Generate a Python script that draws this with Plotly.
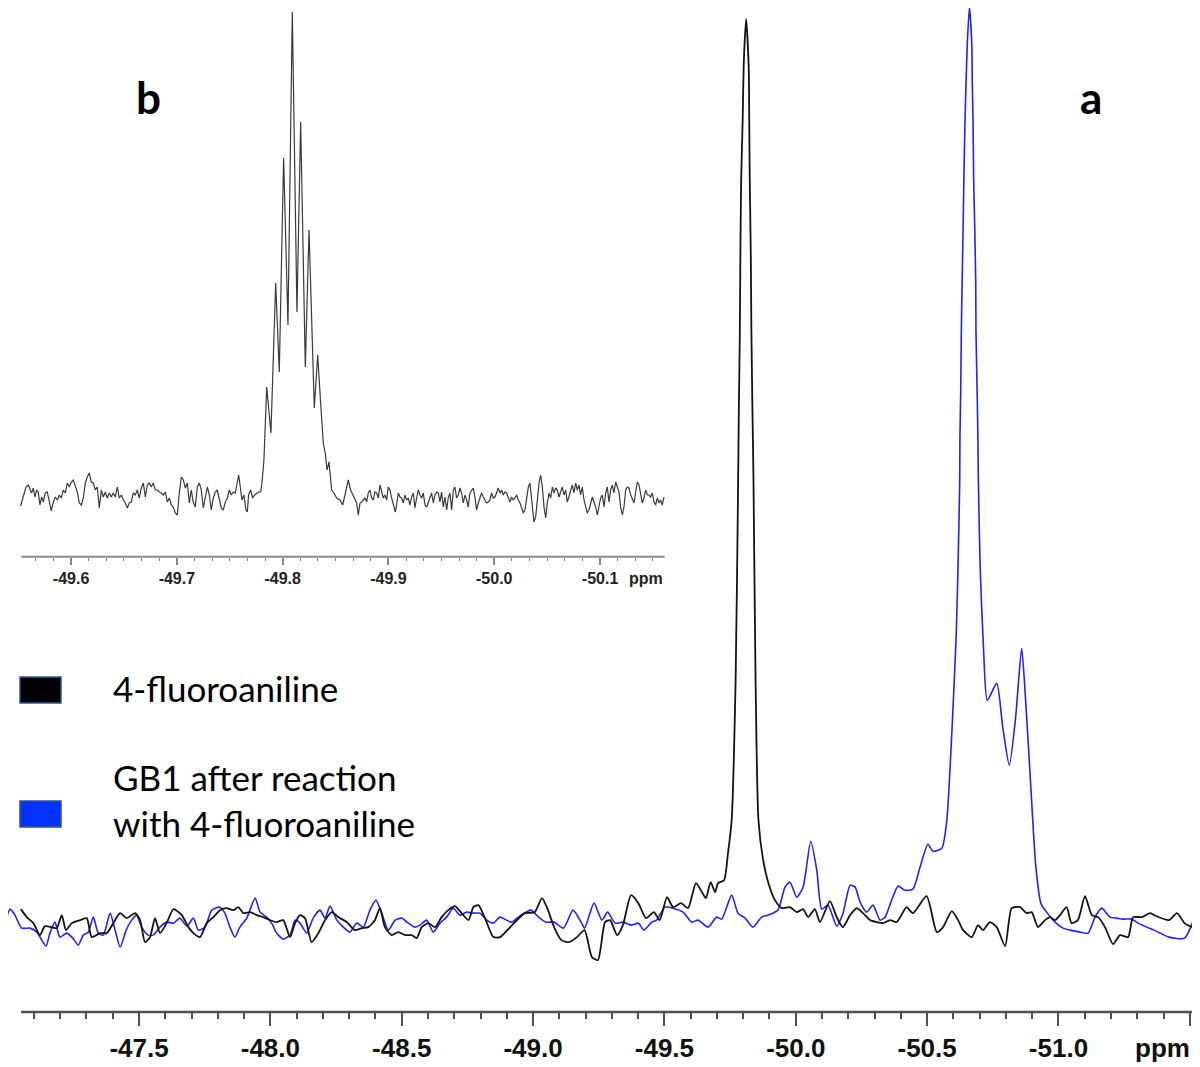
import numpy as np
import plotly.graph_objects as go

# the page puts the figure 8 px in from the top-left corner
OFF = 8
W, H = 1200 - OFF, 1067 - OFF

# ---- data: 19F spectra, (ppm, intensity in arbitrary units) ----
# main spectrum, 4-fluoroaniline (black)
black_trace = [
    (-47.050, 11), (-47.073, 3), (-47.098, -3), (-47.123, -15), (-47.142, -6), (-47.168, -7),
    (-47.187, -8), (-47.206, 5), (-47.222, -10), (-47.244, -3), (-47.275, 0), (-47.301, 2),
    (-47.320, -17), (-47.352, -13), (-47.377, -13), (-47.402, -3), (-47.428, 7), (-47.453, 2),
    (-47.485, 7), (-47.504, 0), (-47.523, -22), (-47.542, -17), (-47.561, 2), (-47.580, -13),
    (-47.605, -3), (-47.631, 11), (-47.663, 5), (-47.688, -7), (-47.707, -13), (-47.732, -17),
    (-47.758, -3), (-47.783, 3), (-47.808, 10), (-47.834, 12), (-47.859, 10), (-47.878, 13),
    (-47.897, 7), (-47.923, 8), (-47.948, 5), (-47.973, 3), (-47.999, 0), (-48.024, -2),
    (-48.049, 0), (-48.075, -17), (-48.094, -3), (-48.113, 5), (-48.132, 2), (-48.157, -22),
    (-48.183, -13), (-48.208, 0), (-48.234, 8), (-48.259, 3), (-48.291, -2), (-48.322, -10),
    (-48.348, -8), (-48.373, -7), (-48.398, 0), (-48.417, 12), (-48.436, -7), (-48.462, -15),
    (-48.487, -12), (-48.513, -15), (-48.538, -15), (-48.557, -18), (-48.576, -7), (-48.601, -3),
    (-48.627, -7), (-48.652, 3), (-48.677, 10), (-48.703, 14), (-48.728, 7), (-48.754, 0),
    (-48.773, 13), (-48.792, 15), (-48.817, 2), (-48.849, -17), (-48.874, -17), (-48.931, -2),
    (-48.969, 7), (-49.006, 8), (-49.034, 22), (-49.057, 10), (-49.080, -7), (-49.108, -20),
    (-49.137, -22), (-49.167, -17), (-49.196, -10), (-49.224, -37), (-49.247, -40), (-49.259, -25),
    (-49.274, -2), (-49.293, 0), (-49.320, -15), (-49.342, -5), (-49.373, 25), (-49.401, 17),
    (-49.430, 2), (-49.460, 8), (-49.482, 0), (-49.510, 23), (-49.533, 13), (-49.563, 17),
    (-49.590, 12), (-49.620, 37), (-49.643, 28), (-49.658, 22), (-49.676, 38), (-49.693, 28),
    (-49.704, 37), (-49.727, 40), (-49.742, 67), (-49.756, 100), (-49.771, 240), (-49.780, 423),
    (-49.783, 503), (-49.787, 585), (-49.789, 660), (-49.792, 738), (-49.798, 802), (-49.802, 857),
    (-49.811, 902), (-49.821, 853), (-49.823, 798), (-49.825, 738), (-49.829, 663), (-49.831, 592),
    (-49.835, 513), (-49.839, 443), (-49.847, 240), (-49.858, 100), (-49.876, 60), (-49.896, 37),
    (-49.921, 20), (-49.947, 12), (-49.978, 13), (-50.004, 8), (-50.028, 11), (-50.047, 3),
    (-50.073, 11), (-50.092, -2), (-50.130, 19), (-50.156, 3), (-50.179, -7), (-50.207, 5),
    (-50.232, 12), (-50.256, 7), (-50.283, 0), (-50.308, -2), (-50.332, -3), (-50.359, 0),
    (-50.384, -2), (-50.422, 13), (-50.446, 7), (-50.498, 24), (-50.537, -12), (-50.561, -7),
    (-50.594, 9), (-50.618, 0), (-50.637, -10), (-50.670, -17), (-50.694, -5), (-50.713, -10),
    (-50.739, -2), (-50.765, -7), (-50.797, -26), (-50.822, 12), (-50.854, 13), (-50.879, 7),
    (-50.898, 8), (-50.922, -7), (-50.949, 0), (-50.968, 3), (-50.987, 0), (-51.006, 5),
    (-51.031, 13), (-51.050, -3), (-51.074, 0), (-51.101, 24), (-51.127, 5), (-51.151, 3),
    (-51.177, -7), (-51.208, -24), (-51.234, -15), (-51.265, -17), (-51.284, 3), (-51.317, 3),
    (-51.349, 7), (-51.364, 5), (-51.421, 0), (-51.451, 7), (-51.480, -3), (-51.508, -7),
]

# main spectrum, GB1 after reaction with 4-fluoroaniline (blue)
blue_trace = [
    (-46.990, -3), (-47.009, 11), (-47.028, 5), (-47.053, -8), (-47.085, -8), (-47.111, -12),
    (-47.130, -20), (-47.146, -26), (-47.161, -13), (-47.180, -2), (-47.199, -17), (-47.225, -13),
    (-47.248, -18), (-47.269, -25), (-47.288, -15), (-47.307, -12), (-47.326, 3), (-47.345, -13),
    (-47.364, -15), (-47.390, 7), (-47.409, -10), (-47.428, -27), (-47.451, -10), (-47.472, 0),
    (-47.491, 5), (-47.510, -7), (-47.535, -15), (-47.554, -15), (-47.580, -7), (-47.605, -2),
    (-47.631, -3), (-47.656, 2), (-47.682, -6), (-47.707, 2), (-47.726, -10), (-47.751, -7),
    (-47.777, 10), (-47.808, 13), (-47.827, 7), (-47.846, -7), (-47.865, -17), (-47.884, -7),
    (-47.910, 2), (-47.942, 22), (-47.961, 8), (-47.986, 3), (-48.005, -3), (-48.024, -13),
    (-48.049, -19), (-48.075, -15), (-48.094, 0), (-48.113, -3), (-48.138, -13), (-48.163, 2),
    (-48.189, 10), (-48.208, 2), (-48.227, 14), (-48.253, 0), (-48.278, -7), (-48.303, -12),
    (-48.329, -3), (-48.354, -7), (-48.379, 10), (-48.402, 20), (-48.424, 7), (-48.449, -10),
    (-48.475, 0), (-48.500, 2), (-48.525, -3), (-48.551, -7), (-48.570, -5), (-48.595, 0),
    (-48.620, -12), (-48.646, -3), (-48.671, 3), (-48.696, 12), (-48.722, 5), (-48.747, 8),
    (-48.773, 7), (-48.798, 7), (-48.824, 0), (-48.849, -3), (-48.874, 3), (-48.918, -2),
    (-48.954, 5), (-48.992, 10), (-49.021, 3), (-49.049, -2), (-49.080, -2), (-49.116, -8),
    (-49.152, 10), (-49.183, -2), (-49.196, -8), (-49.232, 17), (-49.262, 0), (-49.284, 8),
    (-49.312, -3), (-49.342, -2), (-49.373, -5), (-49.401, -3), (-49.422, -10), (-49.452, -2),
    (-49.470, 0), (-49.502, 13), (-49.533, 12), (-49.571, 8), (-49.604, -2), (-49.628, 0),
    (-49.666, -7), (-49.699, 3), (-49.718, 1), (-49.756, 25), (-49.780, 7), (-49.807, 2),
    (-49.837, -7), (-49.870, 3), (-49.894, 5), (-49.932, 10), (-49.959, 33), (-49.978, 38),
    (-50.004, 23), (-50.028, 33), (-50.057, 79), (-50.080, 50), (-50.099, 11), (-50.123, 15),
    (-50.156, -6), (-50.180, 7), (-50.207, 35), (-50.226, 33), (-50.245, 18), (-50.270, 8),
    (-50.294, 15), (-50.321, 0), (-50.340, 3), (-50.365, 20), (-50.389, 34), (-50.416, 30),
    (-50.446, 31), (-50.473, 53), (-50.503, 76), (-50.522, 69), (-50.556, 72), (-50.575, 100),
    (-50.594, 187), (-50.611, 287), (-50.619, 370), (-50.624, 437), (-50.625, 483), (-50.628, 530),
    (-50.630, 583), (-50.633, 635), (-50.637, 693), (-50.640, 743), (-50.644, 797), (-50.648, 837),
    (-50.653, 877), (-50.661, 914), (-50.670, 877), (-50.672, 837), (-50.675, 797), (-50.677, 743),
    (-50.681, 697), (-50.685, 640), (-50.686, 590), (-50.690, 535), (-50.693, 490), (-50.695, 443),
    (-50.702, 353), (-50.715, 270), (-50.729, 220), (-50.765, 237), (-50.788, 193), (-50.813, 155),
    (-50.837, 203), (-50.860, 272), (-50.875, 220), (-50.894, 137), (-50.914, 53), (-50.933, 17),
    (-50.952, 9), (-50.987, -2), (-51.017, -8), (-51.044, -10), (-51.082, -12), (-51.113, -13),
    (-51.139, 3), (-51.165, 12), (-51.196, 3), (-51.222, 2), (-51.246, 1), (-51.279, 1),
    (-51.303, -3), (-51.336, -7), (-51.364, -10), (-51.421, -17), (-51.480, -18), (-51.517, 2),
]

# inset b: high resolution 4-fluoroaniline multiplet
inset_trace = [
    (-49.5523, -8), (-49.5549, 3), (-49.5574, 11), (-49.5596, 13), (-49.5612, 8), (-49.5627, 5),
    (-49.5643, 10), (-49.5659, 1), (-49.5675, 8), (-49.5690, 6), (-49.5706, -7), (-49.5722, 1),
    (-49.5738, -4), (-49.5756, 5), (-49.5775, 6), (-49.5794, -4), (-49.5813, -13), (-49.5832, -4),
    (-49.5851, 1), (-49.5870, -2), (-49.5889, 3), (-49.5908, 0), (-49.5927, 8), (-49.5946, 5),
    (-49.5964, 15), (-49.5983, 11), (-49.6002, 16), (-49.6021, 18), (-49.6040, 13), (-49.6059, 6),
    (-49.6078, -5), (-49.6097, -7), (-49.6116, 0), (-49.6135, 15), (-49.6153, 21), (-49.6172, 25),
    (-49.6191, 16), (-49.6210, 15), (-49.6229, 8), (-49.6248, 11), (-49.6267, -10), (-49.6286, 8),
    (-49.6305, 1), (-49.6324, 6), (-49.6342, 0), (-49.6361, 5), (-49.6380, 1), (-49.6399, 5),
    (-49.6418, 1), (-49.6437, 11), (-49.6456, 0), (-49.6475, 3), (-49.6494, -2), (-49.6513, -5),
    (-49.6532, -10), (-49.6550, -5), (-49.6569, -4), (-49.6588, 5), (-49.6607, 3), (-49.6626, 8),
    (-49.6645, 0), (-49.6664, 10), (-49.6683, 15), (-49.6702, 1), (-49.6721, 13), (-49.6739, 15),
    (-49.6758, 11), (-49.6777, 15), (-49.6796, 8), (-49.6815, 8), (-49.6834, 6), (-49.6853, 5),
    (-49.6872, 3), (-49.6891, 6), (-49.6910, -4), (-49.6928, 0), (-49.6947, -7), (-49.6966, -9),
    (-49.6985, -15), (-49.7004, -17), (-49.7023, 5), (-49.7042, 21), (-49.7061, 18), (-49.7080, 10),
    (-49.7099, 15), (-49.7118, -5), (-49.7136, 8), (-49.7155, -4), (-49.7174, -9), (-49.7193, 11),
    (-49.7212, 15), (-49.7231, 8), (-49.7250, -10), (-49.7269, 0), (-49.7288, 11), (-49.7307, 3),
    (-49.7325, -12), (-49.7344, 0), (-49.7363, 6), (-49.7382, 8), (-49.7401, -2), (-49.7420, -10),
    (-49.7439, -12), (-49.7458, -4), (-49.7477, 0), (-49.7496, 8), (-49.7514, 3), (-49.7533, 6),
    (-49.7552, 5), (-49.7571, 18), (-49.7584, 23), (-49.7597, 13), (-49.7615, -2), (-49.7634, 3),
    (-49.7653, -12), (-49.7666, -14), (-49.7678, 3), (-49.7697, 8), (-49.7716, 0), (-49.7735, 3),
    (-49.7754, 5), (-49.7773, 6), (-49.7792, 6), (-49.7804, 15),
    (-49.7823, 38), (-49.7849, 111), (-49.7889, 65), (-49.7934, 215), (-49.7968, 126),
    (-49.8009, 340), (-49.8050, 173), (-49.8091, 486), (-49.8135, 186), (-49.8170, 376),
    (-49.8214, 131), (-49.8249, 268), (-49.8299, 90), (-49.8331, 143), (-49.8357, 98),
    (-49.8384, 55), (-49.8405, 43), (-49.8419, 28), (-49.8438, 36), (-49.8463, 8),
    (-49.8485, 5), (-49.8510, 0), (-49.8542, -2), (-49.8567, -7), (-49.8589, 3), (-49.8605, 11),
    (-49.8620, 18), (-49.8642, 8), (-49.8661, 3), (-49.8683, -2), (-49.8699, -5), (-49.8715, -17),
    (-49.8731, -5), (-49.8746, -4), (-49.8762, -2), (-49.8778, 0), (-49.8794, -4), (-49.8809, 5),
    (-49.8825, 8), (-49.8841, 0), (-49.8857, -2), (-49.8872, 6), (-49.8888, 5), (-49.8904, 0),
    (-49.8920, 13), (-49.8935, 6), (-49.8951, 0), (-49.8967, 3), (-49.8983, -2), (-49.8998, 11),
    (-49.9014, 8), (-49.9030, 0), (-49.9046, -7), (-49.9065, -14), (-49.9077, -7), (-49.9093, 5),
    (-49.9109, 1), (-49.9124, 0), (-49.9140, -5), (-49.9156, 3), (-49.9172, -2), (-49.9187, 0),
    (-49.9203, -7), (-49.9219, 1), (-49.9235, 5), (-49.9250, -10), (-49.9266, 0), (-49.9282, 8),
    (-49.9298, 3), (-49.9313, 0), (-49.9329, 5), (-49.9345, -7), (-49.9361, -9), (-49.9376, -4),
    (-49.9392, 0), (-49.9408, 5), (-49.9424, -5), (-49.9439, 3), (-49.9455, 6), (-49.9471, 5),
    (-49.9487, -4), (-49.9502, 6), (-49.9518, -9), (-49.9534, 1), (-49.9550, -12), (-49.9565, 0),
    (-49.9581, 5), (-49.9597, -12), (-49.9613, 8), (-49.9628, 11), (-49.9644, 0), (-49.9660, 3),
    (-49.9676, 10), (-49.9691, 5), (-49.9707, -5), (-49.9723, 3), (-49.9739, -2), (-49.9754, -9),
    (-49.9770, 5), (-49.9786, 8), (-49.9802, 10), (-49.9817, 1), (-49.9833, -12), (-49.9849, -5),
    (-49.9865, 0), (-49.9880, 5), (-49.9896, 1), (-49.9912, -2), (-49.9928, -5), (-49.9943, -4),
    (-49.9959, -2), (-49.9975, 5), (-49.9991, 0), (-50.0007, 1), (-50.0022, 6), (-50.0038, 10),
    (-50.0054, 5), (-50.0070, 8), (-50.0085, 3), (-50.0101, 6), (-50.0117, 5), (-50.0133, 0),
    (-50.0148, -4), (-50.0164, 1), (-50.0180, -2), (-50.0196, 0), (-50.0211, 3), (-50.0227, -2),
    (-50.0243, -5), (-50.0259, -10), (-50.0274, -15), (-50.0290, -12), (-50.0306, 1), (-50.0322, 11),
    (-50.0337, 15), (-50.0353, -2), (-50.0375, -24), (-50.0391, -19), (-50.0407, -2), (-50.0423, 15),
    (-50.0438, 23), (-50.0454, 11), (-50.0470, -9), (-50.0486, -20), (-50.0501, -5), (-50.0517, 5),
    (-50.0533, 0), (-50.0549, 11), (-50.0564, 5), (-50.0580, 10), (-50.0596, 8), (-50.0612, 1),
    (-50.0627, 6), (-50.0643, 11), (-50.0659, 3), (-50.0675, 8), (-50.0690, -4), (-50.0706, 1),
    (-50.0722, 8), (-50.0738, 13), (-50.0753, 5), (-50.0769, 15), (-50.0785, 8), (-50.0801, 13),
    (-50.0816, 3), (-50.0832, 11), (-50.0848, -2), (-50.0864, -10), (-50.0879, -15), (-50.0895, -12),
    (-50.0911, -5), (-50.0927, 1), (-50.0942, -4), (-50.0958, -9), (-50.0974, -17), (-50.0990, -9),
    (-50.1005, 0), (-50.1021, 3), (-50.1037, -9), (-50.1053, 5), (-50.1068, 11), (-50.1084, -4),
    (-50.1100, 8), (-50.1116, 13), (-50.1131, 5), (-50.1147, 16), (-50.1163, 11), (-50.1179, 6),
    (-50.1194, -9), (-50.1210, -17), (-50.1226, -9), (-50.1242, 8), (-50.1258, 11), (-50.1273, 10),
    (-50.1289, 3), (-50.1305, -2), (-50.1321, -5), (-50.1336, 6), (-50.1352, 16), (-50.1368, 13),
    (-50.1384, 3), (-50.1399, -5), (-50.1415, 0), (-50.1431, 8), (-50.1447, 3), (-50.1462, 3),
    (-50.1478, 1), (-50.1494, 5), (-50.1510, -4), (-50.1525, -7), (-50.1541, 0), (-50.1557, -5),
    (-50.1573, -2), (-50.1588, -7), (-50.1604, 1),
]

# axis ticks
main_ticks = [-47.5, -48.0, -48.5, -49.0, -49.5, -50.0, -50.5, -51.0, -51.5]
main_ticktext = ["-47.5", "-48.0", "-48.5", "-49.0", "-49.5", "-50.0", "-50.5", "-51.0", ""]
inset_ticks = [-49.6, -49.7, -49.8, -49.9, -50.0, -50.1]
inset_ticktext = ["-49.6", "-49.7", "-49.8", "-49.9", "-50.0", "-50.1"]

legend_names = ["4-fluoroaniline", "GB1 after reaction<br>with 4-fluoroaniline"]


# ---- layout helpers (page pixel -> paper) ----
def px(x):
    return (x - OFF) / W


def py(y):
    return 1 - (y - OFF) / H


BLACK = "#141414"
BLUE = "#2323ee"
AXIS = "#505050"

main_x0, main_x1 = -47.051, -51.508
inset_x0, inset_x1 = -49.553, -50.161
main_minor = [round(v, 1) for v in np.arange(-47.1, -51.45, -0.1) if abs(v * 2 - round(v * 2)) > 1e-6]
inset_minor = [v for v in (-49.6 + np.arange(2, -34, -1) / 60) if inset_x1 < v < inset_x0]

fig = go.Figure()
fig.add_trace(go.Scatter(
    x=[p for p, _ in blue_trace], y=[v for _, v in blue_trace],
    mode="lines", line=dict(color=BLUE, width=1.6, shape="spline", smoothing=0.6),
    hoverinfo="skip",
))
fig.add_trace(go.Scatter(
    x=[p for p, _ in black_trace], y=[v for _, v in black_trace],
    mode="lines", line=dict(color=BLACK, width=1.8, shape="spline", smoothing=0.6),
    hoverinfo="skip",
))
fig.add_trace(go.Scatter(
    x=[p for p, _ in inset_trace], y=[v for _, v in inset_trace],
    mode="lines", line=dict(color="#3a3a3a", width=1.2), hoverinfo="skip",
    xaxis="x2", yaxis="y2",
))

fig.update_layout(
    width=W, height=H,
    margin=dict(l=0, r=0, t=0, b=0),
    paper_bgcolor="white", plot_bgcolor="rgba(0,0,0,0)",
    showlegend=False,
    xaxis=dict(
        domain=[0, 1], range=[-47.0013, -51.5388], anchor="free", position=py(1012),
        showgrid=False, zeroline=False, showline=False,
        tickmode="array", tickvals=main_ticks, ticktext=main_ticktext,
        ticks="outside", ticklen=13, tickwidth=2, tickcolor=AXIS,
        tickfont=dict(family="Liberation Sans", size=26, color="#111111", weight="bold"),
        minor=dict(tickvals=main_minor, ticks="outside", ticklen=6, tickwidth=2, tickcolor=AXIS),
    ),
    yaxis=dict(domain=[0, 1], range=[-147, 913], visible=False),
    xaxis2=dict(
        domain=[0, 1], range=[-49.5404, -50.667], anchor="free", position=py(556.7),
        showgrid=False, zeroline=False, showline=False,
        tickmode="array", tickvals=inset_ticks, ticktext=inset_ticktext,
        ticks="outside", ticklen=7, tickwidth=1.5, tickcolor="#888888",
        tickfont=dict(family="Liberation Sans", size=16, color="#222222", weight="bold"),
        minor=dict(tickvals=inset_minor, ticks="outside", ticklen=3, tickwidth=1.2, tickcolor="#888888"),
    ),
    yaxis2=dict(domain=[0, 1], range=[-569, 490], anchor="x2", visible=False),
)

# axis lines only as long as the spectra
fig.add_shape(type="line", xref="x", yref="paper", x0=main_x0, x1=main_x1,
              y0=py(1012), y1=py(1012), line=dict(color=AXIS, width=2.5))
fig.add_shape(type="line", xref="x2", yref="paper", x0=inset_x0, x1=inset_x1,
              y0=py(556.7), y1=py(556.7), line=dict(color="#8a8a8a", width=2))

fig.add_annotation(text="ppm", xref="x", yref="paper", x=main_x1, y=py(1048),
                   xanchor="right", yanchor="middle", showarrow=False,
                   font=dict(family="Liberation Sans", size=26, color="#111111", weight="bold"))
fig.add_annotation(text="ppm", xref="x2", yref="paper", x=inset_x1, y=py(578),
                   xanchor="right", yanchor="middle", showarrow=False,
                   font=dict(family="Liberation Sans", size=16, color="#222222", weight="bold"))

# panel letters
fig.add_annotation(text="b", xref="paper", yref="paper", x=px(148), y=py(97),
                   xanchor="center", yanchor="middle", showarrow=False,
                   font=dict(family="Lato", size=44, color="black", weight="bold"))
fig.add_annotation(text="a", xref="paper", yref="paper", x=px(1091), y=py(97),
                   xanchor="center", yanchor="middle", showarrow=False,
                   font=dict(family="Lato", size=44, color="black", weight="bold"))

# legend boxes and text
for (y0, y1), fill in [((677, 703), "#000000"), ((801, 827), "#0433ff")]:
    fig.add_shape(type="rect", xref="paper", yref="paper",
                  x0=px(20), x1=px(61), y0=py(y1), y1=py(y0),
                  fillcolor=fill, line=dict(color="#2f5597", width=1.5))
fig.add_annotation(text=legend_names[0], xref="paper", yref="paper", x=px(111), y=py(688),
                   xanchor="left", yanchor="middle", showarrow=False, align="left",
                   font=dict(family="Lato", size=35, color="black"))
fig.add_annotation(text=legend_names[1], xref="paper", yref="paper", x=px(111), y=py(800),
                   xanchor="left", yanchor="middle", showarrow=False, align="left",
                   font=dict(family="Lato", size=35, color="black"))

fig.write_html("out.html")
